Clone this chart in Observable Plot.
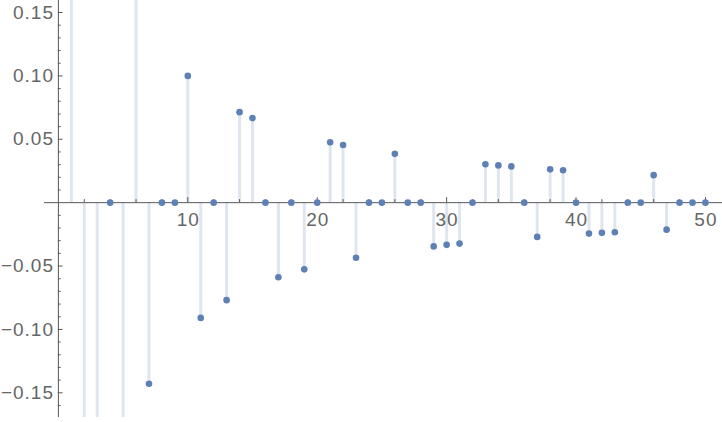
<!DOCTYPE html>
<html>
<head>
<meta charset="utf-8">
<script src="https://cdn.jsdelivr.net/npm/d3@7"></script>
<script src="https://cdn.jsdelivr.net/npm/@observablehq/plot@0.6"></script>
<style>
  html, body { margin: 0; padding: 0; background: #fff; }
  #chart text { letter-spacing: 1px; }
</style>
</head>
<body>
<div id="chart"></div>
<script>
// n = 1..50 and the plotted values (n=1,2,3,5,6 run off the plot range)
const ns = [1,2,3,4,5,6,7,8,9,10,11,12,13,14,15,16,17,18,19,20,21,22,23,24,25,26,27,28,29,30,31,32,33,34,35,36,37,38,39,40,41,42,43,44,45,46,47,48,49,50];
const values = [1,-0.5,-0.3333,0,-0.2,0.1667,-0.1429,0,0,0.1,-0.0909,0,-0.0769,0.0714,0.0667,0,-0.0588,0,-0.0526,0,0.0476,0.0455,-0.0435,0,0,0.0385,0,0,-0.0345,-0.0333,-0.0323,0,0.0303,0.0294,0.0286,0,-0.027,0.0263,0.0256,0,-0.0244,-0.0238,-0.0233,0,0,0.0217,-0.0213,0,0,0];

const xLabels = [10, 20, 30, 40, 50];
const xMinorTicks = [2,4,6,8,12,14,16,18,22,24,26,28,32,34,36,38,42,44,46,48];
const yLabels = [-0.15, -0.10, -0.05, 0.05, 0.10, 0.15];
const yMinorTicks = [-0.16,-0.14,-0.13,-0.12,-0.11,-0.09,-0.08,-0.07,-0.06,-0.04,-0.03,-0.02,-0.01,0.01,0.02,0.03,0.04,0.06,0.07,0.08,0.09,0.11,0.12,0.13,0.14];

const data = ns.map((n, i) => ({n, v: values[i]}));

const blue = "#5E81B5";
const axisColor = "#585858";
const labelColor = "#666666";
const fmt = d3.format(".2f");

const chart = Plot.plot({
  width: 722,
  height: 422,
  marginLeft: 44,
  marginRight: 0,
  marginTop: 0,
  marginBottom: 5,
  x: {domain: [-1.074, 51.32], axis: null},
  y: {domain: [-0.1695, 0.1595], axis: null},
  style: {fontFamily: "'Liberation Sans', Arial, sans-serif", background: "white", overflow: "visible"},
  marks: [
    Plot.ruleX(data, {x: "n", y1: () => 0, y2: "v", stroke: blue, strokeOpacity: 0.2, strokeWidth: 3, clip: true}),
    Plot.ruleY([0], {stroke: axisColor, strokeWidth: 1}),
    Plot.ruleX([0], {stroke: axisColor, strokeWidth: 1}),
    Plot.ruleX(xMinorTicks, {x: d => d, y1: () => 0, y2: () => 0, insetTop: -3, stroke: axisColor}),
    Plot.ruleX(xLabels, {x: d => d, y1: () => 0, y2: () => 0, insetTop: -5, stroke: axisColor}),
    Plot.ruleY(yMinorTicks, {y: d => d, x1: () => 0, x2: () => 0, insetRight: -2.7, stroke: axisColor}),
    Plot.ruleY(yLabels, {y: d => d, x1: () => 0, x2: () => 0, insetRight: -4.7, stroke: axisColor}),
    Plot.dot(data, {x: "n", y: "v", r: 3.3, fill: blue, stroke: null, clip: true}),
    Plot.text(yLabels, {x: () => 0, y: d => d, text: d => fmt(d), textAnchor: "end", dx: -4.4, fontSize: 19, fill: labelColor}),
    Plot.text(xLabels, {x: d => d, y: () => 0, text: d => String(d), dy: 17, dx: 0.5, fontSize: 19, fill: labelColor})
  ]
});
document.getElementById("chart").appendChild(chart);
</script>
</body>
</html>
